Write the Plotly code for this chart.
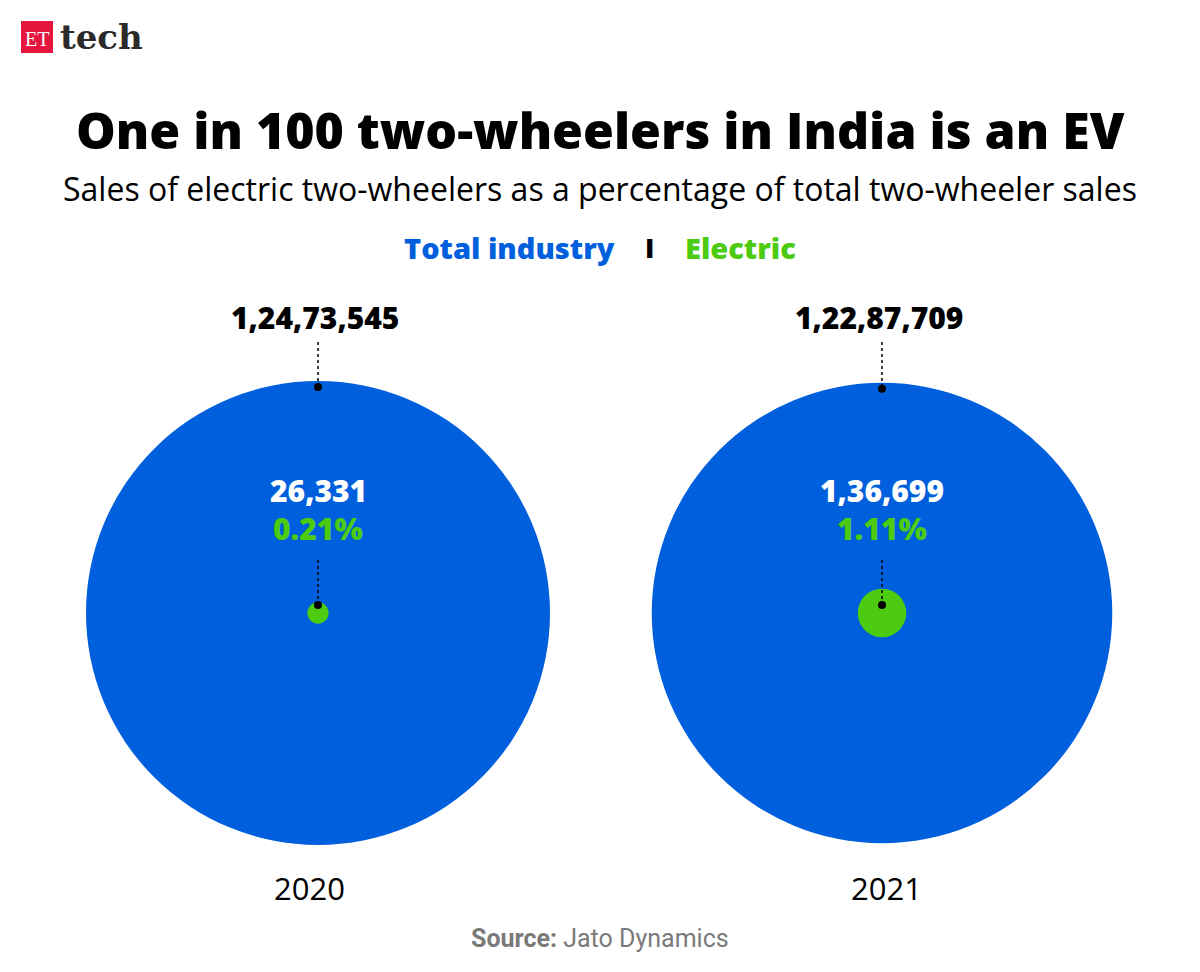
import math
import plotly.graph_objects as go

# Data
years = ["2020", "2021"]
total_sales = [12473545, 12287709]
electric_sales = [26331, 136699]
source_text = "<b>Source:</b> Jato Dynamics"

BLUE = "#005FDC"
GREEN = "#4DCB10"
FONT = "Open Sans"


def indian_format(n):
    s = str(int(n))
    if len(s) <= 3:
        return s
    head, tail = s[:-3], s[-3:]
    groups = []
    while len(head) > 2:
        groups.insert(0, head[-2:])
        head = head[:-2]
    if head:
        groups.insert(0, head)
    return ",".join(groups) + "," + tail


# axes run in page pixels (page body has an 8px margin)
W, H = 1200, 972
PAD = 8
centres_x = [318, 882]
centre_y = 613
R_MAX = 232
year_x = [309, 886]

fig = go.Figure()
shapes = []
annotations = []

max_total = max(total_sales)
dot_x, dot_y = [], []
for i, yr in enumerate(years):
    cx = centres_x[i]
    r_tot = R_MAX * math.sqrt(total_sales[i] / max_total)
    r_ev = R_MAX * math.sqrt(electric_sales[i] / max_total)

    shapes.append(dict(type="circle", xref="x", yref="y", layer="below",
                       x0=cx - r_tot, x1=cx + r_tot, y0=centre_y - r_tot, y1=centre_y + r_tot,
                       fillcolor=BLUE, line=dict(width=0)))
    shapes.append(dict(type="circle", xref="x", yref="y", layer="below",
                       x0=cx - r_ev, x1=cx + r_ev, y0=centre_y - r_ev, y1=centre_y + r_ev,
                       fillcolor=GREEN, line=dict(width=0)))

    # leader lines
    top_dot = centre_y - r_tot + 6
    shapes.append(dict(type="line", xref="x", yref="y", x0=cx, x1=cx, y0=342, y1=top_dot,
                       line=dict(color="black", width=1.5, dash="dot")))
    inner_dot = centre_y - 8
    shapes.append(dict(type="line", xref="x", yref="y", x0=cx, x1=cx, y0=560, y1=inner_dot,
                       line=dict(color="black", width=1.5, dash="dot")))
    dot_x += [cx, cx]
    dot_y += [top_dot, inner_dot]

    share = electric_sales[i] / total_sales[i] * 100
    annotations += [
        dict(x=cx - 3, y=317, text=indian_format(total_sales[i]), showarrow=False,
             font=dict(family=FONT, size=30, color="black", weight=800)),
        dict(x=cx, y=490, text=indian_format(electric_sales[i]), showarrow=False,
             font=dict(family=FONT, size=30, color="white", weight=800)),
        dict(x=cx, y=528, text=f"{share:.2f}%", showarrow=False,
             font=dict(family=FONT, size=30, color=GREEN, weight=800)),
        dict(x=year_x[i], y=888, text=yr, showarrow=False,
             font=dict(family=FONT, size=31, color="black")),
    ]

fig.add_trace(go.Scatter(x=dot_x, y=dot_y, mode="markers", hoverinfo="skip",
                         marker=dict(color="black", size=8), showlegend=False))

# logo
shapes.append(dict(type="rect", xref="x", yref="y", x0=21, x1=53, y0=21, y1=53,
                   fillcolor="#E5173F", line=dict(width=0)))
annotations += [
    dict(x=37, y=39, text="ET", showarrow=False,
         font=dict(family="Liberation Serif", size=20, color="white")),
    dict(x=101, y=37, text="<b>tech</b>", showarrow=False,
         font=dict(family="DejaVu Serif", size=34, color="#2b2b2b")),
]

# titles and legend
annotations += [
    dict(x=600, y=130, text="One in 100 two-wheelers in India is an EV", showarrow=False,
         font=dict(family=FONT, size=50, color="black", weight=800)),
    dict(x=600, y=188, text="Sales of electric two-wheelers as a percentage of total two-wheeler sales",
         showarrow=False, font=dict(family=FONT, size=32, color="black")),
    dict(x=617, y=247, text="Total industry", showarrow=False, xanchor="right",
         font=dict(family=FONT, size=29, color=BLUE, weight=800)),
    dict(x=649, y=247, text="I", showarrow=False,
         font=dict(family=FONT, size=27, color="black", weight=800)),
    dict(x=683, y=247, text="Electric", showarrow=False, xanchor="left",
         font=dict(family=FONT, size=29, color=GREEN, weight=800)),
    dict(x=600, y=938, text=source_text, showarrow=False,
         font=dict(family="Roboto", size=25, color="#7a7a7a")),
]

fig.update_layout(
    width=W - PAD, height=H - PAD,
    margin=dict(l=0, r=0, t=0, b=0),
    paper_bgcolor="white", plot_bgcolor="white",
    xaxis=dict(range=[PAD, W], visible=False, fixedrange=True),
    yaxis=dict(range=[H, PAD], visible=False, fixedrange=True),
    shapes=shapes,
    annotations=annotations,
)

fig.write_html("out.html")
